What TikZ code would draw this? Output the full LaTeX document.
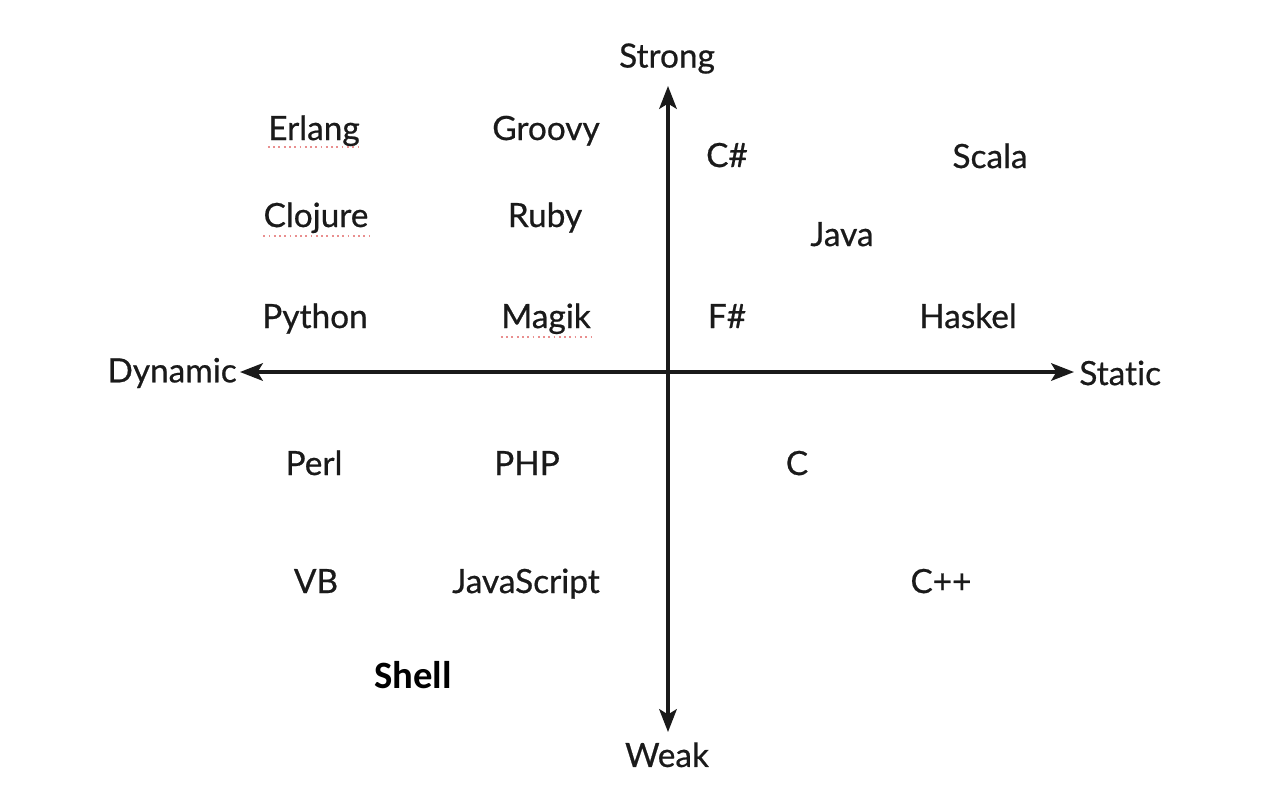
\documentclass[tikz,border=0pt]{standalone}
\usepackage{fontspec}
\setmainfont{Lato}[Ligatures={NoCommon}, FakeBold=0.6]
\newfontfamily\shellfont{Carlito}
\usetikzlibrary{arrows.meta}
\definecolor{ink}{HTML}{1A1A1A}
\definecolor{squig}{HTML}{E06060}
\tikzset{
  lang/.style={font=\fontsize{19}{22}\selectfont, text=ink, inner sep=0pt, anchor=base},
  axislabel/.style={font=\fontsize{19}{22}\selectfont, text=ink, inner sep=0pt},
  axis/.style={line width=1.9pt, draw=ink, {Stealth[length=13pt,width=10pt,inset=3pt]}-{Stealth[length=13pt,width=10pt,inset=3pt]}},
  spell/.style={draw=squig, line width=1pt, dotted, opacity=0.7}
}
\begin{document}
\begin{tikzpicture}[x=0.02cm,y=-0.02cm]
\useasboundingbox[fill=white] (0,0) rectangle (1276,789);
% axes
\coordinate (top) at (668,86);
\coordinate (bottom) at (668,732);
\coordinate (left) at (240,372);
\coordinate (right) at (1074,372);
\draw[axis] (left) -- (right);
\draw[axis] (top) -- (bottom);
\node[axislabel, anchor=south] (strong) at (667,74) {Strong};
\node[axislabel, anchor=north] (weak) at (667,742) {Weak};
\node[axislabel, anchor=east] (dynamic) at (237,373) {Dynamic};
\node[axislabel, anchor=west] (static) at (1079,373) {Static};
% languages
\node[lang] (erlang) at (314,140) {Erlang};
\node[lang] (groovy) at (546,140) {Groovy};
\node[lang] (csharp) at (727,167) {C\#};
\node[lang] (scala) at (990,168) {Scala};
\node[lang] (clojure) at (316,227) {Clojure};
\node[lang] (ruby) at (545,227) {Ruby};
\node[lang] (java) at (842,246) {Java};
\node[lang] (python) at (315,328) {Python};
\node[lang] (magik) at (546,328) {Magik};
\node[lang] (fsharp) at (727,328) {F\#};
\node[lang] (haskel) at (968,328) {Haskel};
\node[lang] (perl) at (314,475) {Perl};
\node[lang] (php) at (527,475) {PHP};
\node[lang] (c) at (797,475) {C};
\node[lang] (vb) at (316,593) {VB};
\node[lang] (js) at (526,593) {JavaScript};
\node[lang] (cpp) at (941,593) {C++};
\node[lang, font=\shellfont\bfseries\fontsize{22}{26}\selectfont, text=black] (shell) at (413,688) {Shell};
% spell-check underlines
\draw[spell] ([yshift=-4pt]erlang.base west) -- ([yshift=-4pt]erlang.base east);
\draw[spell] ([yshift=-5pt]clojure.base west) -- ([yshift=-5pt]clojure.base east);
\draw[spell] ([yshift=-5pt]magik.base west) -- ([yshift=-5pt]magik.base east);
\end{tikzpicture}
\end{document}
